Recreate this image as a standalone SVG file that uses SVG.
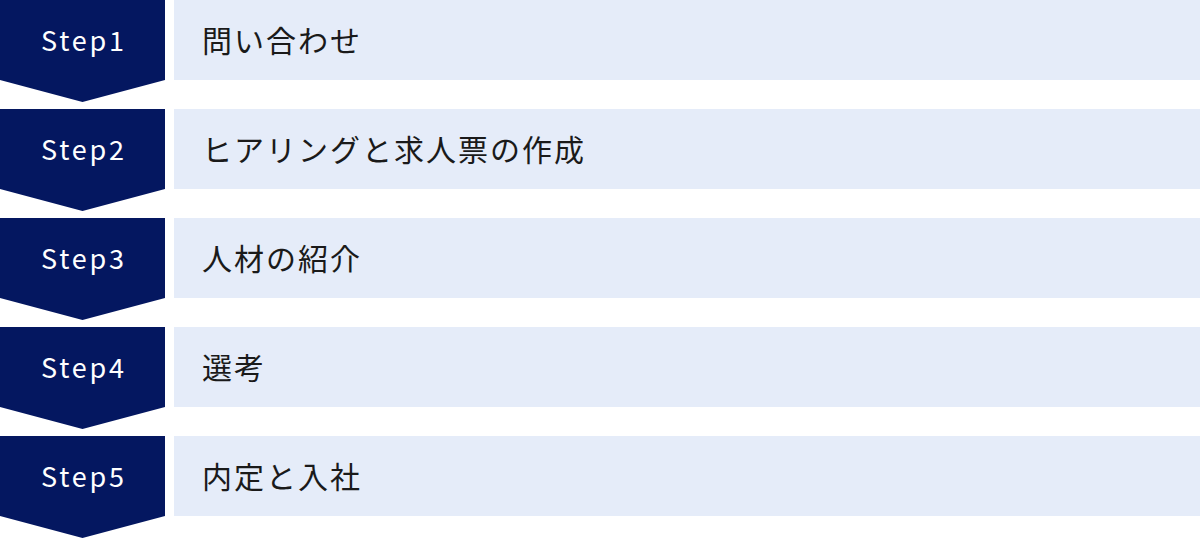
<svg xmlns="http://www.w3.org/2000/svg" width="1200" height="538" viewBox="0 0 1200 538">
<style>
.arrow{fill:#041760}
.bar{fill:#E5ECF9}
.step{font-family:"Noto Sans CJK JP","Noto Sans",sans-serif;font-size:27px;fill:#ffffff;letter-spacing:2.8px;text-anchor:middle;dominant-baseline:central}
.label{font-family:"Noto Sans CJK JP","Noto Sans CJK SC",sans-serif;font-size:30px;fill:#1a1a1a;letter-spacing:2px;dominant-baseline:central}
</style>
<defs>
<path id="chev" d="M0 0H165V80L82.5 102L0 80Z"/>
</defs>
<g id="step1" transform="translate(0,0)">
<use href="#chev" class="arrow"/>
<rect class="bar" x="174" y="0" width="1026" height="80"/>
<text class="step" x="84" y="39">Step1</text>
<text class="label" x="202" y="38.5">問い合わせ</text>
</g>
<g id="step2" transform="translate(0,109)">
<use href="#chev" class="arrow"/>
<rect class="bar" x="174" y="0" width="1026" height="80"/>
<text class="step" x="84" y="39">Step2</text>
<text class="label" x="202" y="38.5">ヒアリングと求人票の作成</text>
</g>
<g id="step3" transform="translate(0,218)">
<use href="#chev" class="arrow"/>
<rect class="bar" x="174" y="0" width="1026" height="80"/>
<text class="step" x="84" y="39">Step3</text>
<text class="label" x="202" y="38.5">人材の紹介</text>
</g>
<g id="step4" transform="translate(0,327)">
<use href="#chev" class="arrow"/>
<rect class="bar" x="174" y="0" width="1026" height="80"/>
<text class="step" x="84" y="39">Step4</text>
<text class="label" x="202" y="38.5">選考</text>
</g>
<g id="step5" transform="translate(0,436)">
<use href="#chev" class="arrow"/>
<rect class="bar" x="174" y="0" width="1026" height="80"/>
<text class="step" x="84" y="39">Step5</text>
<text class="label" x="202" y="38.5">内定と入社</text>
</g>
<g id="connectors"/>
</svg>
